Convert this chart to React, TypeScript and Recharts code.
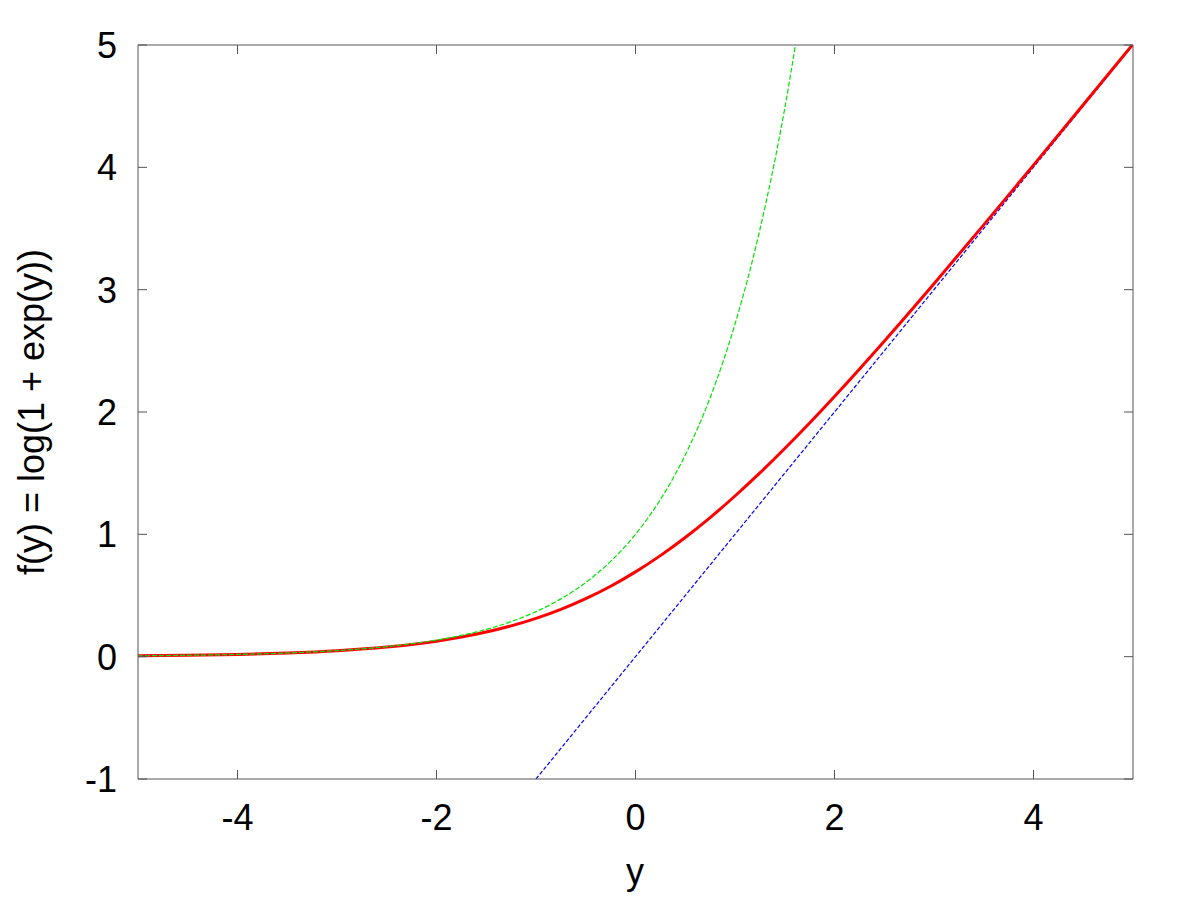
import React from 'react';
import { LineChart, Line, XAxis, YAxis } from 'recharts';

// x positions (the variable y) and the three curves
const softplusX = [-5, -4.5, -4, -3.5, -3, -2.5, -2, -1.75, -1.5, -1.25, -1, -0.75, -0.5, -0.25, 0, 0.25, 0.5, 0.75, 1, 1.25, 1.5, 1.75, 2, 2.5, 3, 3.5, 4, 4.5, 5];
const softplusY = [0.0067, 0.011, 0.0181, 0.0298, 0.0486, 0.0789, 0.1269, 0.1602, 0.2014, 0.2519, 0.3133, 0.3868, 0.4741, 0.5759, 0.6931, 0.8259, 0.9741, 1.1368, 1.3133, 1.5019, 1.7014, 1.9102, 2.1269, 2.5789, 3.0486, 3.5298, 4.0181, 4.511, 5.0067];

const expX = [-5, -4.5, -4, -3.5, -3, -2.5, -2, -1.75, -1.5, -1.25, -1, -0.75, -0.5, -0.25, 0, 0.25, 0.5, 0.75, 1, 1.25, 1.5, 1.75];
const expY = [0.0067, 0.0111, 0.0183, 0.0302, 0.0498, 0.0821, 0.1353, 0.1738, 0.2231, 0.2865, 0.3679, 0.4724, 0.6065, 0.7788, 1.0, 1.284, 1.6487, 2.117, 2.7183, 3.4903, 4.4817, 5.7546];

const linX = [-1, 5];
const linY = [-1, 5];

const xTicks = [-4, -2, 0, 2, 4];
const yTicks = [-1, 0, 1, 2, 3, 4, 5];

const softplusData = softplusX.map((x, i) => ({ x, v: softplusY[i] }));
const expData = expX.map((x, i) => ({ x, v: expY[i] }));
const linData = linX.map((x, i) => ({ x, v: linY[i] }));

const FONT = '"Liberation Sans", Arial, sans-serif';
const TICK = 9;
const AXIS_COLOR = '#555';

const BottomTick = (props: any) => {
  const { x, y, payload } = props;
  return (
    <g>
      <line x1={x} y1={y} x2={x} y2={y - TICK} stroke={AXIS_COLOR} strokeWidth={1} />
      <text x={x} y={y + 51} textAnchor="middle" fontSize={36} fontFamily={FONT} fill="#000">
        {payload.value}
      </text>
    </g>
  );
};

const TopTick = (props: any) => {
  const { x, y } = props;
  return <line x1={x} y1={y} x2={x} y2={y + TICK} stroke={AXIS_COLOR} strokeWidth={1} />;
};

const LeftTick = (props: any) => {
  const { x, y, payload } = props;
  return (
    <g>
      <line x1={x} y1={y} x2={x + TICK} y2={y} stroke={AXIS_COLOR} strokeWidth={1} />
      <text x={x - 21} y={y + 13} textAnchor="end" fontSize={36} fontFamily={FONT} fill="#000">
        {payload.value}
      </text>
    </g>
  );
};

const RightTick = (props: any) => {
  const { x, y } = props;
  return <line x1={x} y1={y} x2={x - TICK} y2={y} stroke={AXIS_COLOR} strokeWidth={1} />;
};

export default function App() {
  return (
    <div style={{ position: 'absolute', left: 0, top: 0, width: 1200, height: 900, background: '#fff' }}>
      <LineChart width={1200} height={900} margin={{ top: 44, right: 66, bottom: 120, left: 137 }}>
        <XAxis
          xAxisId="b"
          dataKey="x"
          type="number"
          domain={[-5, 5]}
          ticks={xTicks}
          allowDataOverflow
          height={1}
          tickSize={0}
          tickMargin={0}
          tickLine={false}
          axisLine={{ stroke: AXIS_COLOR, strokeWidth: 1 }}
          tick={<BottomTick />}
          interval={0}
        />
        <XAxis
          xAxisId="t"
          orientation="top"
          dataKey="x"
          type="number"
          domain={[-5, 5]}
          ticks={xTicks}
          allowDataOverflow
          height={1}
          tickSize={0}
          tickMargin={0}
          tickLine={false}
          axisLine={{ stroke: AXIS_COLOR, strokeWidth: 1 }}
          tick={<TopTick />}
          interval={0}
        />
        <YAxis
          yAxisId="l"
          type="number"
          domain={[-1, 5]}
          ticks={yTicks}
          allowDataOverflow
          width={1}
          tickSize={0}
          tickMargin={0}
          tickLine={false}
          axisLine={{ stroke: AXIS_COLOR, strokeWidth: 1 }}
          tick={<LeftTick />}
          interval={0}
        />
        <YAxis
          yAxisId="r"
          orientation="right"
          type="number"
          domain={[-1, 5]}
          ticks={yTicks}
          allowDataOverflow
          width={1}
          tickSize={0}
          tickMargin={0}
          tickLine={false}
          axisLine={{ stroke: AXIS_COLOR, strokeWidth: 1 }}
          tick={<RightTick />}
          interval={0}
        />
        <Line
          xAxisId="b"
          yAxisId="l"
          data={linData}
          dataKey="v"
          type="linear"
          stroke="#0000ff"
          strokeWidth={1.2}
          strokeDasharray="4 2"
          dot={false}
          activeDot={false}
          isAnimationActive={false}
        />
        <Line
          xAxisId="b"
          yAxisId="l"
          data={softplusData}
          dataKey="v"
          type="monotone"
          stroke="#ff0000"
          strokeWidth={3}
          dot={false}
          activeDot={false}
          isAnimationActive={false}
        />
        <Line
          xAxisId="b"
          yAxisId="l"
          data={expData}
          dataKey="v"
          type="monotone"
          stroke="#00e600"
          strokeWidth={1.2}
          strokeDasharray="5 2"
          dot={false}
          activeDot={false}
          isAnimationActive={false}
        />
        <text x={635} y={884} textAnchor="middle" fontSize={36} fontFamily={FONT} fill="#000">
          y
        </text>
        <text
          x={44}
          y={412}
          textAnchor="middle"
          fontSize={36}
          fontFamily={FONT}
          fill="#000"
          transform="rotate(-90 44 412)"
        >
          f(y) = log(1 + exp(y))
        </text>
      </LineChart>
    </div>
  );
}
